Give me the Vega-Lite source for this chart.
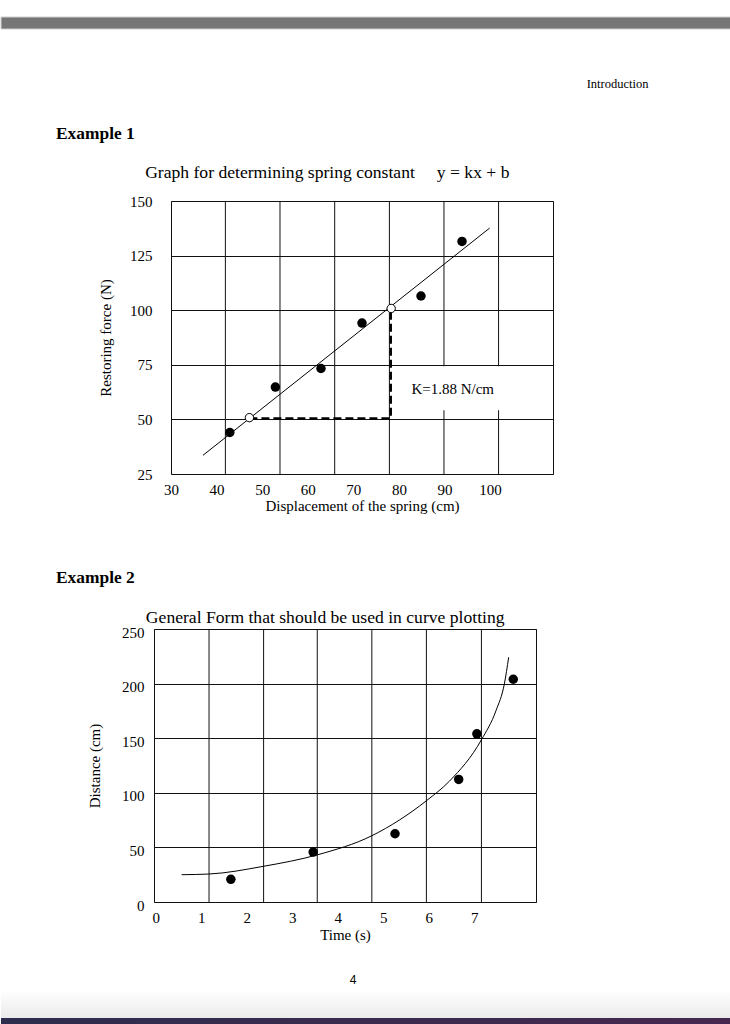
{
  "$schema": "https://vega.github.io/schema/vega-lite/v6.json",
  "padding": {"top": 16, "left": 0, "right": 0, "bottom": 0},
  "background": "white",
  "spacing": 0,
  "config": {
    "font": "Liberation Serif",
    "view": {"stroke": "#111111", "strokeWidth": 1},
    "axis": {"labelFont": "Liberation Serif", "titleFont": "Liberation Serif", "labelFontSize": 15, "titleFontSize": 15, "titleFontWeight": "normal", "labelColor": "#000000", "titleColor": "#000000", "ticks": false, "domain": false, "gridColor": "#111111", "gridOpacity": 1, "gridWidth": 1, "labelFlush": false},
    "axisX": {"grid": false},
    "axisY": {"grid": true},
    "title": {"font": "Liberation Serif", "fontWeight": "normal", "color": "#000000", "fontSize": 17.6},
    "concat": {"spacing": 0}
  },
  "vconcat": [
    {
      "width": 730, "height": 12,
      "data": {"values": [{}]},
      "mark": {"type": "rect", "fill": "#767676", "stroke": "#cfcfcf", "strokeWidth": 1},
      "encoding": {},
      "view": {"stroke": null},
      "title": {"text": "Introduction", "orient": "bottom", "anchor": "end", "dx": -83, "offset": 58.5, "baseline": "alphabetic", "fontSize": 12.5}
    },
    {"width": 1, "height": 34, "data": {"values": []}, "mark": "point", "view": {"stroke": null}},
    {
      "title": {"text": "Example 1", "anchor": "start", "dx": 55, "offset": 7, "baseline": "alphabetic", "fontWeight": "bold", "fontSize": 17.4},
      "spacing": 0,
      "hconcat": [
        {"width": 97, "height": 1, "data": {"values": []}, "mark": "point", "view": {"stroke": null}},
        {
          "width": 382, "height": 273,
          "title": {"text": "Graph for determining spring constant\u00a0\u00a0\u00a0\u00a0 y = kx + b", "offset": -1.6, "baseline": "alphabetic", "dx": -34.7},
          "data": {"values": [
            {"kind": "gx", "x": 41.93, "y": 25, "y2": 150},
            {"kind": "gx", "x": 53.91, "y": 25, "y2": 150},
            {"kind": "gx", "x": 65.91, "y": 25, "y2": 150},
            {"kind": "gx", "x": 77.91, "y": 25, "y2": 150},
            {"kind": "gx", "x": 89.88, "y": 25, "y2": 150},
            {"kind": "gx", "x": 101.86, "y": 25, "y2": 150},
            {"kind": "box", "x": 79.95, "x2": 102.77, "y": 54.2, "y2": 74.3},
            {"kind": "fit", "x": 37.02, "y": 33.56},
            {"kind": "fit", "x": 99.9, "y": 137.6},
            {"kind": "dash", "i": 1, "x": 47.2, "y": 50.4},
            {"kind": "dash", "i": 2, "x": 78.2, "y": 50.4},
            {"kind": "dash", "i": 3, "x": 78.2, "y": 100.8},
            {"kind": "pt", "x": 93.84, "y": 131.5},
            {"kind": "pt", "x": 84.84, "y": 106.5},
            {"kind": "pt", "x": 71.9, "y": 94.1},
            {"kind": "pt", "x": 62.9, "y": 73.3},
            {"kind": "pt", "x": 52.9, "y": 64.8},
            {"kind": "pt", "x": 42.9, "y": 44.0},
            {"kind": "open", "x": 78.3, "y": 100.8},
            {"kind": "open", "x": 47.2, "y": 50.8},
            {"kind": "label", "x": 91.8, "y": 61.8, "text": "K=1.88 N/cm"}
          ]},
          "encoding": {
            "x": {"field": "x", "type": "quantitative", "scale": {"domain": [30, 113.8], "nice": false, "zero": false},
                  "axis": {"values": [30, 40, 50, 60, 70, 80, 90, 100], "title": "Displacement of the spring (cm)", "labelPadding": 8, "titlePadding": 1}},
            "y": {"field": "y", "type": "quantitative", "scale": {"domain": [25, 150], "nice": false, "zero": false},
                  "axis": {"values": [25, 50, 75, 100, 125, 150], "title": "Restoring force (N)", "labelPadding": 19, "titlePadding": 16}}
          },
          "layer": [
            {"transform": [{"filter": "datum.kind === 'gx'"}], "mark": {"type": "rule", "color": "#111111", "strokeWidth": 1}, "encoding": {"y2": {"field": "y2"}}},
            {"transform": [{"filter": "datum.kind === 'box'"}], "mark": {"type": "rect", "fill": "white"}, "encoding": {"x2": {"field": "x2"}, "y2": {"field": "y2"}}},
            {"transform": [{"filter": "datum.kind === 'fit'"}], "mark": {"type": "line", "color": "black", "strokeWidth": 1}},
            {"transform": [{"filter": "datum.kind === 'dash'"}], "mark": {"type": "line", "color": "black", "strokeWidth": 2.5, "strokeDash": [8, 4]}, "encoding": {"order": {"field": "i", "type": "quantitative"}}},
            {"transform": [{"filter": "datum.kind === 'pt'"}], "mark": {"type": "circle", "color": "black", "opacity": 1, "size": 90}},
            {"transform": [{"filter": "datum.kind === 'open'"}], "mark": {"type": "point", "shape": "circle", "filled": true, "fill": "white", "stroke": "black", "strokeWidth": 1, "opacity": 1, "size": 70}},
            {"transform": [{"filter": "datum.kind === 'label'"}], "mark": {"type": "text", "font": "Liberation Serif", "fontSize": 15, "align": "center", "baseline": "alphabetic", "color": "black"}, "encoding": {"text": {"field": "text"}}}
          ]
        }
      ]
    },
    {"width": 1, "height": 55, "data": {"values": []}, "mark": "point", "view": {"stroke": null}},
    {
      "title": {"text": "Example 2", "anchor": "start", "dx": 55, "offset": 7.7, "baseline": "alphabetic", "fontWeight": "bold", "fontSize": 17.4},
      "spacing": 0,
      "hconcat": [
        {"width": 86, "height": 1, "data": {"values": []}, "mark": "point", "view": {"stroke": null}},
        {
          "width": 382, "height": 273,
          "title": {"text": "General Form that should be used in curve plotting", "offset": -15.3, "baseline": "alphabetic", "dx": -19.8},
          "data": {"values": [
            {"kind": "gx", "x": 1.17, "y": 0, "y2": 250},
            {"kind": "gx", "x": 2.37, "y": 0, "y2": 250},
            {"kind": "gx", "x": 3.55, "y": 0, "y2": 250},
            {"kind": "gx", "x": 4.75, "y": 0, "y2": 250},
            {"kind": "gx", "x": 5.95, "y": 0, "y2": 250},
            {"kind": "gx", "x": 7.16, "y": 0, "y2": 250},
            {"kind": "curve", "x": 0.568, "y": 25.0},
            {"kind": "curve", "x": 1.167, "y": 25.6},
            {"kind": "curve", "x": 2.368, "y": 32.7},
            {"kind": "curve", "x": 3.553, "y": 43.2},
            {"kind": "curve", "x": 4.751, "y": 60.7},
            {"kind": "curve", "x": 5.952, "y": 92.8},
            {"kind": "curve", "x": 6.457, "y": 110.7},
            {"kind": "curve", "x": 7.159, "y": 148.5},
            {"kind": "curve", "x": 7.482, "y": 175.4},
            {"kind": "curve", "x": 7.664, "y": 199.7},
            {"kind": "curve", "x": 7.759, "y": 224.1},
            {"kind": "pt", "x": 1.65, "y": 20.8},
            {"kind": "pt", "x": 3.46, "y": 45.7},
            {"kind": "pt", "x": 5.26, "y": 62.5},
            {"kind": "pt", "x": 6.66, "y": 112.2},
            {"kind": "pt", "x": 7.06, "y": 154.0},
            {"kind": "pt", "x": 7.86, "y": 204.0}
          ]},
          "encoding": {
            "x": {"field": "x", "type": "quantitative", "scale": {"domain": [-0.04, 8.36], "nice": false, "zero": false},
                  "axis": {"values": [0, 1, 2, 3, 4, 5, 6, 7], "title": "Time (s)", "labelPadding": 8.5, "titlePadding": 2}},
            "y": {"field": "y", "type": "quantitative", "scale": {"domain": [0, 250], "nice": false, "zero": false},
                  "axis": {"values": [0, 50, 100, 150, 200, 250], "title": "Distance (cm)", "labelPadding": 10, "titlePadding": 19, "labelOffset": 3}}
          },
          "layer": [
            {"transform": [{"filter": "datum.kind === 'gx'"}], "mark": {"type": "rule", "color": "#111111", "strokeWidth": 1}, "encoding": {"y2": {"field": "y2"}}},
            {"transform": [{"filter": "datum.kind === 'curve'"}], "mark": {"type": "line", "color": "black", "strokeWidth": 1, "interpolate": "monotone"}},
            {"transform": [{"filter": "datum.kind === 'pt'"}], "mark": {"type": "circle", "color": "black", "opacity": 1, "size": 90}}
          ]
        }
      ]
    },
    {"width": 1, "height": 31, "data": {"values": []}, "mark": "point", "view": {"stroke": null}},
    {
      "spacing": 0,
      "vconcat": [
        {
          "width": 730, "height": 28,
          "data": {"values": [{}]},
          "mark": {"type": "rect", "fill": {"gradient": "linear", "x1": 0, "y1": 0, "x2": 0, "y2": 1, "stops": [{"offset": 0, "color": "#ffffff"}, {"offset": 1, "color": "#ebebeb"}]}},
          "encoding": {},
          "view": {"stroke": null},
          "title": {"text": "4", "anchor": "middle", "dx": -13, "offset": -6, "baseline": "alphabetic", "font": "Liberation Sans", "fontSize": 12}
        },
        {
          "width": 730, "height": 6,
          "data": {"values": [{}]},
          "mark": {"type": "rect", "fill": {"gradient": "linear", "x1": 0, "y1": 0, "x2": 1, "y2": 0, "stops": [{"offset": 0, "color": "#2d2d4d"}, {"offset": 1, "color": "#46284f"}]}},
          "encoding": {},
          "view": {"stroke": null}
        }
      ]
    }
  ]
}
